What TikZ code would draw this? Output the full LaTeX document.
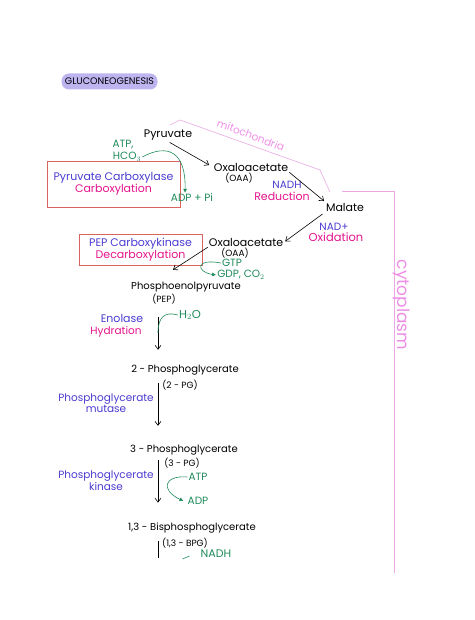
\documentclass[tikz,border=0pt]{standalone}
\usepackage{fontspec}
\setmainfont{Poppins}
\usepackage{tikz}
\usetikzlibrary{arrows.meta,positioning,calc}

\definecolor{enzblue}{HTML}{4B3BD0}
\definecolor{rxnpink}{HTML}{E4148C}
\definecolor{cofgreen}{HTML}{1E8A5A}
\definecolor{boxred}{HTML}{D9625E}
\definecolor{regionpink}{HTML}{EBA8E2}
\definecolor{titlefill}{HTML}{BDB4F0}

\begin{document}
\begin{tikzpicture}[
  x=1pt, y=-1pt,
  chem/.style={inner sep=1pt, font=\fontsize{10}{11}\selectfont},
  chembig/.style={chem, font=\fontsize{11}{12}\selectfont},
  abbr/.style={inner sep=1pt, font=\fontsize{9}{10}\selectfont},
  cof/.style={inner sep=1pt, text=cofgreen, font=\fontsize{10.5}{11}\selectfont},
  enz/.style={inner sep=1pt, text=enzblue, font=\fontsize{10.5}{10.5}\selectfont, align=center},
  rxn/.style={inner sep=1pt, text=rxnpink, font=\fontsize{10.5}{11}\selectfont},
  enzbox/.style={draw=boxred, semithick, align=center, font=\fontsize{11}{12.5}\selectfont},
  arrow/.style={-{Straight Barb[length=4pt,width=6pt]}, semithick},
  cofarrow/.style={cofgreen, semithick, -{Latex[length=4pt,width=4pt]}},
  cofline/.style={cofgreen, semithick},
  region/.style={draw=regionpink, semithick}
]
  \useasboundingbox (0,0) rectangle (474,620);

  \node[fill=titlefill, rounded corners=7.5pt, minimum width=96pt, minimum height=16pt,
        inner sep=0pt, font=\fontsize{9.5}{10}\selectfont] (title) at (109.5,81.5) {GLUCONEOGENESIS};

  \draw[region] (170,125) -- (180,120) -- (320,170) -- (330,192);
  \draw[region] (342,191) -- (394,191) -- (394,573);
  \node[text=regionpink!85!magenta, rotate=-21, anchor=south, inner sep=1pt,
        font=\fontsize{10.5}{11}\selectfont] (mito) at (249,140) {mitochondria};
  \node[text=regionpink!85!magenta, rotate=-90, font=\fontsize{17}{17}\selectfont] (cyto) at (402,305) {cytoplasm};

  \node[chembig] (pyr) at (168,135) {Pyruvate};
  \node[cof] (atp1) at (123,145) {ATP,};
  \node[cof] (hco) at (127,157) {HCO$_3$};
  \node[enzbox, minimum width=133pt, minimum height=46pt] (pcbox) at (113.5,184)
    {\textcolor{enzblue}{Pyruvate Carboxylase}\\\textcolor{rxnpink}{Carboxylation}};
  \node[cof] (adp1) at (192,198) {ADP + Pi};
  \node[chembig] (oaa1) at (251,167) {Oxaloacetate};
  \node[abbr] (oaa1ab) at (239,178) {(OAA)};
  \node[enz] (nadh1) at (287,185) {NADH};
  \node[rxn, font=\fontsize{11}{11}\selectfont] (red) at (282,196) {Reduction};
  \node[chembig] (mal) at (345,207) {Malate};
  \node[enz] (nad) at (334,227) {NAD+};
  \node[rxn, font=\fontsize{11.5}{11}\selectfont] (oxi) at (336,237) {Oxidation};
  \node[chembig] (oaa2) at (246,242) {Oxaloacetate};
  \node[abbr] (oaa2ab) at (235,253) {(OAA)};
  \node[enzbox, minimum width=123pt, minimum height=31pt] (pepbox) at (140.5,249.5)
    {\textcolor{enzblue}{PEP Carboxykinase}\\\textcolor{rxnpink}{Decarboxylation}};
  \node[cof] (gtp) at (232,263) {GTP};
  \node[cof] (gdp) at (241,275) {GDP, CO$_2$};
  \node[chem] (pep) at (186,287) {Phosphoenolpyruvate};
  \node[abbr] (pepab) at (164,299) {(PEP)};
  \node[enz, font=\fontsize{11}{11}\selectfont] (enol) at (122,318) {Enolase};
  \node[rxn] (hyd) at (116,332) {Hydration};
  \node[cof, font=\fontsize{11.5}{12}\selectfont] (h2o) at (190,315) {H$_2$O};
  \node[chem] (pg2) at (185,370) {2 - Phosphoglycerate};
  \node[abbr] (pg2ab) at (180,385) {(2 - PG)};
  \node[enz] (mut) at (106,403) {Phosphoglycerate\\mutase};
  \node[chem] (pg3) at (184,450) {3 - Phosphoglycerate};
  \node[abbr] (pg3ab) at (182,463) {(3 - PG)};
  \node[enz] (kin) at (106,481) {Phosphoglycerate\\kinase};
  \node[cof] (atp2) at (198,477) {ATP};
  \node[cof] (adp2) at (198,501) {ADP};
  \node[chem] (bpg) at (192,528) {1,3 - Bisphosphoglycerate};
  \node[abbr] (bpgab) at (185,543) {(1,3 - BPG)};
  \node[cof, font=\fontsize{11}{12}\selectfont] (nadh2) at (216,554) {NADH};

  \coordinate (axis) at (158,0);
  \coordinate (enoljoin) at (158,333);
  \coordinate (bpgend) at (158,558);

  \draw[arrow, shorten <=2pt, shorten >=4pt] (pyr.south) -- (oaa1.west);
  \draw[arrow, shorten >=1pt] (oaa1.south east) -- (mal.north west);
  \draw[arrow, shorten <=3pt, shorten >=1pt] (mal.south west) -- (oaa2.east);
  \draw[arrow] (oaa2.south west) -- ($(pep.north)+(-13,-11)$);
  \draw[arrow, shorten <=12pt, shorten >=14pt] (pepab.south -| axis) -- (pg2.north -| axis);
  \draw[arrow, shorten <=7pt, shorten >=18pt] (pg2.south -| axis) -- (pg3.north -| axis);
  \draw[arrow, shorten <=4pt, shorten >=19pt] (pg3.south -| axis) -- (bpg.north -| axis);
  \draw[semithick, shorten <=7pt] (bpg.south -| axis) -- (bpgend);

  \draw[cofarrow] (hco.east) .. controls (168,143) and (186,152) .. ($(adp1.north)+(-7,0)$);
  \draw[cofarrow] (gtp.west) .. controls (195,258) and (196,272) .. (gdp.west);
  \draw[cofline] (h2o.west) .. controls (164,311) and (158,318) .. (enoljoin);
  \draw[cofarrow] (atp2.west) .. controls (164,475) and (160,490) .. ($(adp2.west)+(-3,0)$);
  \draw[cofline] ($(nadh2.west)+(-17,5)$) -- ++(7,-3);
\end{tikzpicture}
\end{document}
